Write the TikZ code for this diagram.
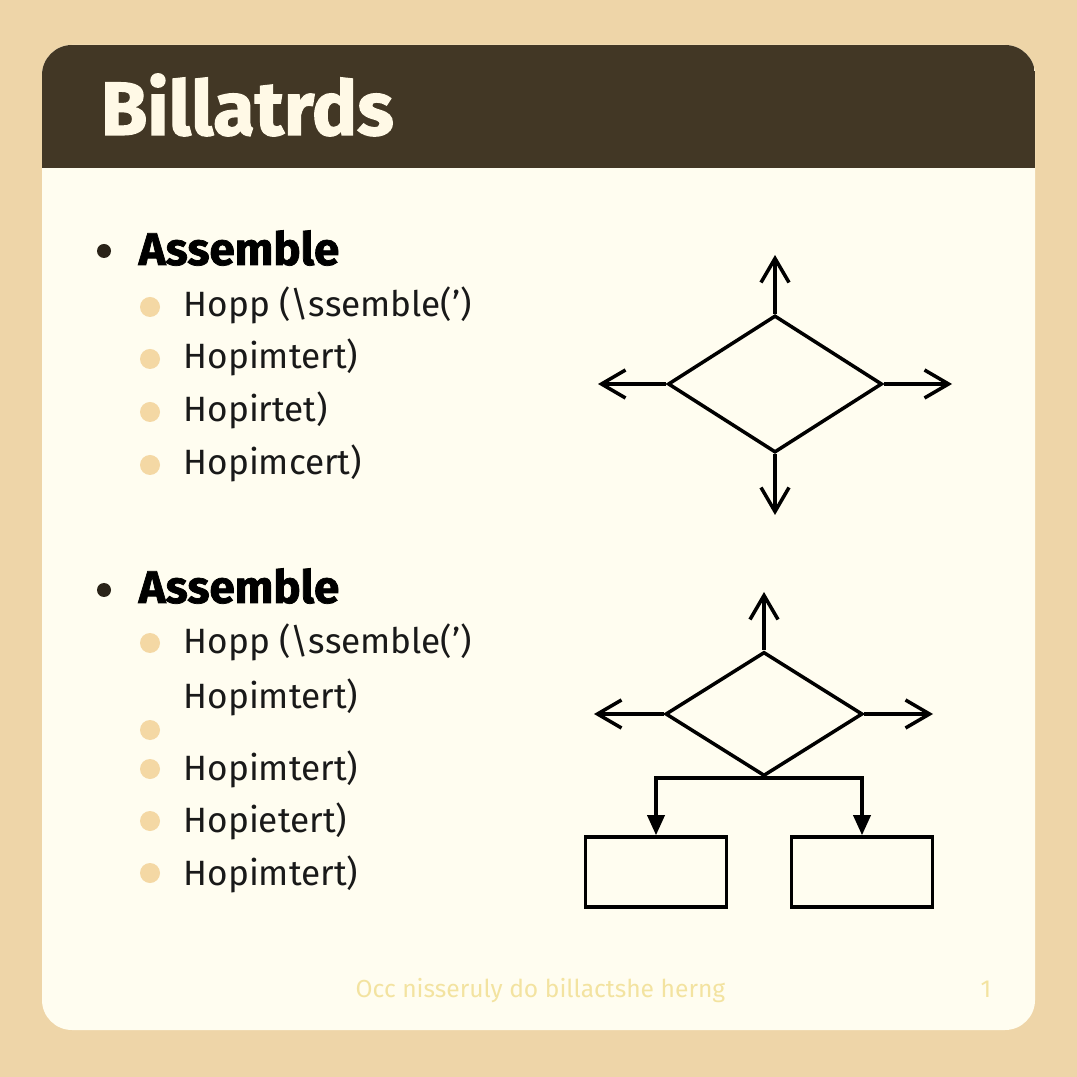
\documentclass[tikz,border=0pt]{standalone}
\usepackage{fontspec}
\setmainfont{Fira Sans}
\newfontfamily\heavyfont{Fira Sans}[FakeBold=1.6]
\usetikzlibrary{shapes.geometric,arrows.meta}
\definecolor{bgtan}{HTML}{EED5A8}
\definecolor{cardbg}{HTML}{FFFDF0}
\definecolor{headbg}{HTML}{423725}
\definecolor{titlefg}{HTML}{FFF9E6}
\definecolor{dotlight}{HTML}{F4D8A4}
\definecolor{dotdark}{HTML}{2A2318}
\definecolor{footfg}{HTML}{F3E3A0}

\begin{document}
\begin{tikzpicture}[x=0.01cm, y=-0.01cm,
  line/.style={line width=1pt, draw=black},
  openarr/.style={line, -{Straight Barb[length=2.4mm, width=2.8mm]}},
  fillarr/.style={line, -{Triangle[length=2mm, width=1.7mm]}},
  rhomb/.style={diamond, line, inner sep=0pt, minimum width=#1},
  slot/.style={rectangle, line, minimum width=1.41cm, minimum height=0.70cm},
  head/.style={anchor=base west, inner sep=0pt, font=\heavyfont\bfseries\fontsize{13}{15}\selectfont},
  item/.style={anchor=base west, inner sep=0pt, font=\fontsize{10}{12}\selectfont, text=black!90}]
% background and card
\fill[bgtan] (0,0) rectangle (1077,1077);
\fill[cardbg, rounded corners=0.3cm] (42,45) rectangle (1035,1030);
\begin{scope}
  \clip[rounded corners=0.3cm] (42,45) rectangle (1035,1030);
  \fill[headbg] (42,45) rectangle (1035,168);
\end{scope}
\node[anchor=base west, inner sep=0pt, text=titlefg, font=\heavyfont\bfseries\fontsize{21.5}{24}\selectfont] (title) at (100,135) {Billatrds};

% first list
\fill[dotdark] (104,251) circle (7);
\node[head] (asm1) at (138,265) {Assemble};
\foreach \y/\txt/\nm in {305/{Hopp (\textbackslash ssemble(')}/a, 357/{Hopimtert)}/b, 410/{Hopirtet)}/c, 463/{Hopimcert)}/d}{
  \fill[dotlight] (150,\y+2) circle (10);
  \node[item] (one\nm) at (183,\y+12) {\txt};
}

% second list
\fill[dotdark] (104,590) circle (7);
\node[head] (asm2) at (138,603) {Assemble};
\fill[dotlight] (150,643) circle (10);
\node[item] (twoa) at (183,653) {Hopp (\textbackslash ssemble(')};
\node[item] (twob) at (183,708) {Hopimtert)};
\fill[dotlight] (150,730) circle (10);
\fill[dotlight] (150,769) circle (10);
\node[item] (twoc) at (183,780) {Hopimtert)};
\fill[dotlight] (150,821) circle (10);
\node[item] (twod) at (183,832) {Hopietert)};
\fill[dotlight] (150,873) circle (10);
\node[item] (twoe) at (183,885) {Hopimtert)};

% upper diagram
\node[rhomb=2.14cm, minimum height=1.37cm] (dia) at (775,384) {};
\coordinate (diaN) at (775,255);
\coordinate (diaS) at (775,515);
\coordinate (diaW) at (598,384);
\coordinate (diaE) at (952,384);
\draw[openarr] (dia.north) -- (diaN);
\draw[openarr] (dia.south) -- (diaS);
\draw[openarr] (dia.west) -- (diaW);
\draw[openarr] (dia.east) -- (diaE);

% lower diagram
\node[rhomb=1.97cm, minimum height=1.24cm] (dib) at (764,714) {};
\coordinate (dibN) at (764,592);
\coordinate (dibW) at (594,714);
\coordinate (dibE) at (933,714);
\draw[openarr] (dib.north) -- (dibN);
\draw[openarr] (dib.west) -- (dibW);
\draw[openarr] (dib.east) -- (dibE);
\node[slot] (boxl) at (656,872) {};
\node[slot] (boxr) at (862,872) {};
\draw[fillarr] (dib.south) -| (boxl.north);
\draw[fillarr] (dib.south) -| (boxr.north);

% footer
\node[anchor=base west, inner sep=0pt, text=footfg, font=\fontsize{7}{9}\selectfont] (foot) at (355,997) {Occ nisserulу do billactshe herng};
\node[anchor=base, inner sep=0pt, text=footfg, font=\fontsize{7}{9}\selectfont] (pgno) at (986,997) {1};
\end{tikzpicture}
\end{document}
